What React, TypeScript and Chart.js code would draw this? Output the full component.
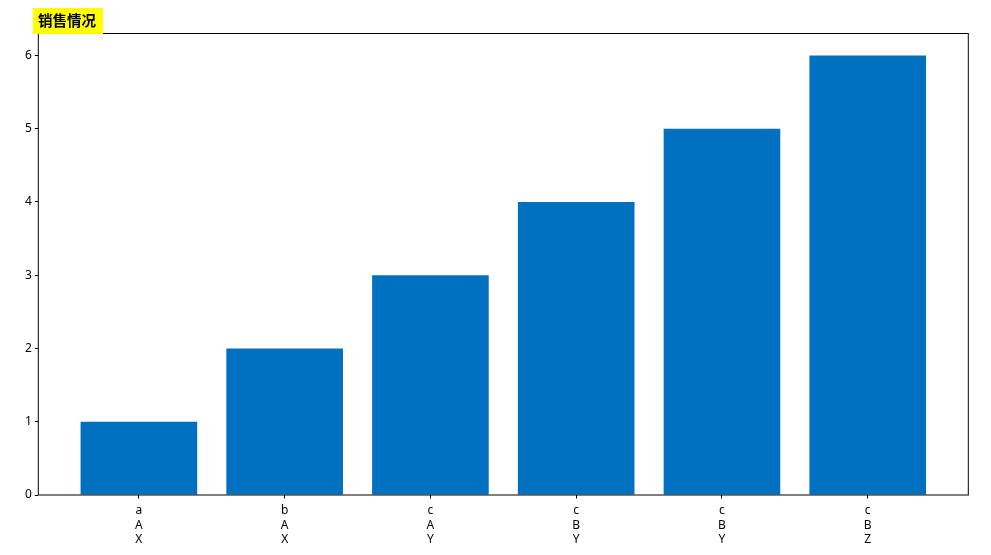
import React, { useEffect, useRef } from 'react';
import { Chart, registerables } from 'chart.js';

Chart.register(...registerables);

// categories are three levels deep, one array per level
const level1 = ['a', 'b', 'c', 'c', 'c', 'c'];
const level2 = ['A', 'A', 'A', 'B', 'B', 'B'];
const level3 = ['X', 'X', 'Y', 'Y', 'Y', 'Z'];
const sales = [1, 2, 3, 4, 5, 6];
const yTicks = [0, 1, 2, 3, 4, 5, 6];
const chartTitle = '销售情况';

// frame around the plot and the yellow title box
const framePlugin = {
  id: 'frameAndTitle',
  afterDraw(chart: Chart) {
    const { ctx, chartArea } = chart;
    ctx.save();
    ctx.strokeStyle = '#000';
    ctx.lineWidth = 1;
    ctx.strokeRect(chartArea.left, chartArea.top, chartArea.right - chartArea.left, chartArea.bottom - chartArea.top);

    ctx.fillStyle = '#ffff00';
    ctx.fillRect(33, 8, 70, 26);
    ctx.fillStyle = '#000';
    ctx.font = "bold 14.5px 'Noto Sans CJK SC', sans-serif";
    ctx.textBaseline = 'middle';
    ctx.textAlign = 'left';
    ctx.fillText(chartTitle, 38, 20.5);
    ctx.restore();
  }
};

export default function App() {
  const canvasRef = useRef<HTMLCanvasElement>(null);
  const chartRef = useRef<Chart | null>(null);

  useEffect(() => {
    document.body.style.margin = '0';
    const canvas = canvasRef.current;
    if (!canvas) return;
    if (chartRef.current) chartRef.current.destroy();

    const tickFont = { family: "'Noto Sans', 'DejaVu Sans', sans-serif", size: 12, lineHeight: 1.2 };

    chartRef.current = new Chart(canvas, {
      type: 'bar',
      data: {
        datasets: [
          {
            label: chartTitle,
            data: sales.map((v, i) => ({ x: i, y: v })),
            backgroundColor: '#0070C0',
            borderWidth: 0,
            barPercentage: 0.8,
            categoryPercentage: 1
          }
        ]
      },
      options: {
        animation: false,
        responsive: true,
        maintainAspectRatio: false,
        layout: { padding: { left: 0, top: 33.5, right: 22.7, bottom: 0 } },
        plugins: {
          legend: { display: false },
          title: { display: false },
          tooltip: { enabled: false }
        },
        scales: {
          x: {
            type: 'linear',
            offset: false,
            min: -0.69,
            max: 5.69,
            afterBuildTicks: (axis: any) => {
              axis.ticks = level1.map((_, i) => ({ value: i }));
            },
            afterFit: (axis: any) => {
              axis.height = 60;
            },
            grid: { display: true, offset: false, drawOnChartArea: false, drawTicks: true, tickLength: 3.5, color: '#000' },
            border: { display: false },
            ticks: {
              color: '#000',
              font: tickFont,
              padding: 5,
              maxRotation: 0,
              autoSkip: false,
              callback: (value: any) => {
                const i = Math.round(Number(value));
                return [level1[i], level2[i], level3[i]];
              }
            }
          },
          y: {
            min: 0,
            max: 6.3,
            afterBuildTicks: (axis: any) => {
              axis.ticks = yTicks.map(v => ({ value: v }));
            },
            afterFit: (axis: any) => {
              axis.width = 38.3;
            },
            grid: { display: true, drawOnChartArea: false, drawTicks: true, tickLength: 3.5, color: '#000' },
            border: { display: false },
            ticks: {
              color: '#000',
              font: tickFont,
              padding: 3
            }
          }
        }
      },
      plugins: [framePlugin]
    });

    return () => {
      if (chartRef.current) {
        chartRef.current.destroy();
        chartRef.current = null;
      }
    };
  }, []);

  return (
    <div style={{ position: 'relative', width: 991, height: 555 }}>
      <canvas ref={canvasRef} />
    </div>
  );
}
